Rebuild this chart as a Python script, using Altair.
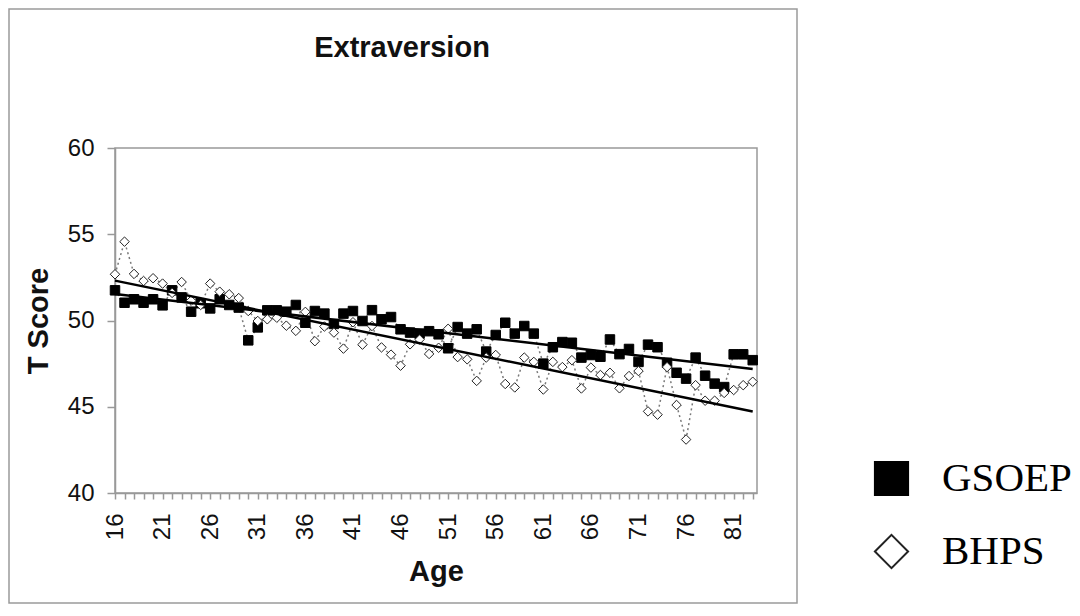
import altair as alt
import pandas as pd

# ---- data ----
ages = list(range(16, 84))

gsoep = [51.75, 51.03, 51.23, 51.03, 51.23, 50.88, 51.75, 51.34, 50.51, 51.00,
         50.70, 51.23, 50.90, 50.75, 48.85, 49.60, 50.59, 50.59, 50.51, 50.90,
         49.87, 50.55, 50.40, 49.80, 50.40, 50.55, 49.97, 50.60, 50.07, 50.20,
         49.49, 49.30, 49.24, 49.38, 49.20, 48.39, 49.62, 49.24, 49.49, 48.20,
         49.16, 49.87, 49.24, 49.68, 49.24, 47.50, 48.45, 48.75, 48.71, 47.85,
         48.00, 47.90, 48.90, 48.05, 48.35, 47.60, 48.60, 48.45, 47.55, 46.97,
         46.63, 47.85, 46.80, 46.34, 46.14, 48.04, 48.04, 47.70]

bhps = [52.68, 54.57, 52.70, 52.29, 52.45, 52.14, 51.60, 52.23, 51.15, 50.90,
        52.14, 51.67, 51.52, 51.30, 50.55, 49.97, 50.07, 50.16, 49.70, 49.40,
        50.50, 48.80, 49.65, 49.30, 48.37, 49.90, 48.60, 49.68, 48.44, 48.02,
        47.38, 48.62, 48.90, 48.06, 48.42, 49.52, 47.88, 47.75, 46.50, 47.85,
        48.00, 46.32, 46.12, 47.85, 47.60, 46.00, 47.60, 47.30, 47.70, 46.06,
        47.27, 46.84, 46.97, 46.07, 46.78, 47.07, 44.73, 44.54, 47.30, 45.10,
        43.10, 46.25, 45.35, 45.35, 45.80, 45.97, 46.25, 46.45]

series_names = ["GSOEP", "BHPS"]
x_ticks = list(range(16, 84))
y_ticks = [40, 45, 50, 55, 60]

df = pd.DataFrame({
    "age": ages * 2,
    "score": gsoep + bhps,
    "series": ["GSOEP"] * len(ages) + ["BHPS"] * len(ages),
})

x_enc = alt.X(
    "age:Q",
    scale=alt.Scale(domain=[16, 83.45], nice=False, zero=False),
    axis=alt.Axis(
        values=x_ticks,
        labelExpr="(datum.value - 16) % 5 == 0 ? datum.label : ''",
        labelAngle=270,
        labelOverlap=False,
        labelFlush=False,
        tickSize=6,
        labelPadding=14,
        titlePadding=18,
        grid=False,
        title="Age",
    ),
)
y_enc = alt.Y(
    "score:Q",
    scale=alt.Scale(domain=[40, 60], nice=False, zero=False),
    axis=alt.Axis(
        values=y_ticks,
        tickSize=8,
        labelPadding=13,
        titlePadding=14,
        grid=False,
        title="T Score",
    ),
)

base = alt.Chart(df)

border = alt.Chart(pd.DataFrame({"k": [0]})).mark_rect(
    fill="white", fillOpacity=0, stroke="#9a9a9a", strokeWidth=1.5
).encode(
    x=alt.value(-106), x2=alt.value(682), y=alt.value(-139), y2=alt.value(455)
)

dots = base.mark_line(stroke="#7a7a7a", strokeWidth=1.5, strokeDash=[2, 3]).encode(
    x=x_enc, y=y_enc, detail="series:N"
)

legend_def = alt.Legend(
    orient="none",
    legendX=756,
    legendY=310,
    title=None,
    symbolSize=1100,
    symbolStrokeWidth=2,
    labelFont="Liberation Serif",
    labelFontSize=41,
    labelColor="black",
    labelOffset=30,
    rowPadding=30,
    padding=0,
)

points = base.mark_point(filled=True, opacity=1, size=90, strokeWidth=1).encode(
    x=x_enc,
    y=y_enc,
    shape=alt.Shape("series:N", scale=alt.Scale(domain=series_names, range=["square", "diamond"]),
                    legend=legend_def),
    fill=alt.Fill("series:N", scale=alt.Scale(domain=series_names, range=["black", "white"]),
                  legend=legend_def),
    stroke=alt.Stroke("series:N", scale=alt.Scale(domain=series_names, range=["black", "#222222"]),
                      legend=legend_def),
)

reg = base.transform_regression(
    "age", "score", groupby=["series"], extent=[16, 83]
).mark_line(color="black", strokeWidth=2.5).encode(
    x=x_enc, y=y_enc, detail="series:N"
)

chart = alt.layer(border, dots, points, reg).properties(
    width=642,
    height=345,
    padding=0,
    title=alt.Title(
        "Extraversion",
        font="Liberation Sans",
        fontSize=29,
        fontWeight="bold",
        color="#111",
        anchor="middle",
        frame="group",
        dx=-34,
        offset=-55,
    ),
).configure_axis(
    labelFont="Liberation Sans",
    labelFontSize=24,
    labelColor="#111",
    titleFont="Liberation Sans",
    titleFontSize=29,
    titleFontWeight="bold",
    titleColor="#111",
    domainColor="#999",
    tickColor="#999",
    domainWidth=1.5,
    tickWidth=1.5,
).configure_axisX(
    labelOverlap=False,
).configure_view(stroke="#999", strokeWidth=1.5)

chart.save("out.html", embed_options={"renderer": "svg", "actions": False})
